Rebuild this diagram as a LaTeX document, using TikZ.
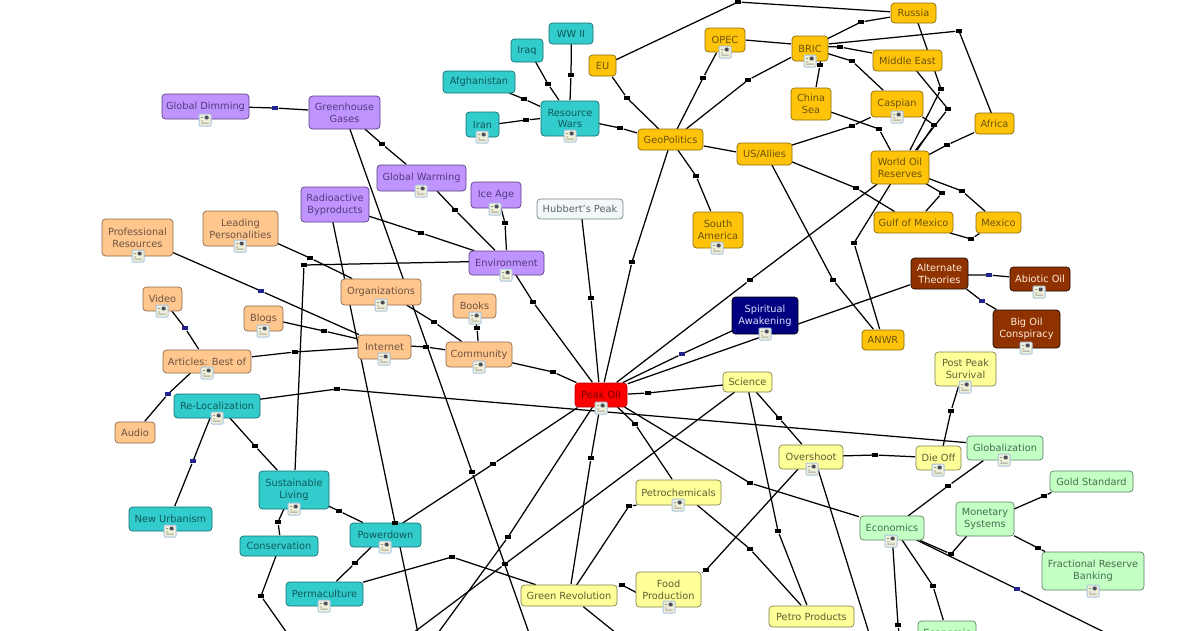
\documentclass[tikz,border=0pt]{standalone}
\usepackage{fontspec}
\setmainfont{DejaVu Sans}
\pgfdeclarelayer{edges}
\pgfsetlayers{edges,main}
\definecolor{cPur}{HTML}{C094FF}\definecolor{tPur}{HTML}{55397F}\definecolor{bPur}{HTML}{5A3C86}
\definecolor{cTeal}{HTML}{33CCCC}\definecolor{tTeal}{HTML}{0F5A5C}\definecolor{bTeal}{HTML}{166E70}
\definecolor{cAmb}{HTML}{FFC40A}\definecolor{tAmb}{HTML}{6A5208}\definecolor{bAmb}{HTML}{8A6A08}
\definecolor{cPea}{HTML}{FFC68E}\definecolor{tPea}{HTML}{6E5440}\definecolor{bPea}{HTML}{8A6A4C}
\definecolor{cYel}{HTML}{FFFF99}\definecolor{tYel}{HTML}{5E5E34}\definecolor{bYel}{HTML}{80804C}
\definecolor{cGrn}{HTML}{C4FFC4}\definecolor{tGrn}{HTML}{466E50}\definecolor{bGrn}{HTML}{5A8264}
\definecolor{cIce}{HTML}{F2F7FA}\definecolor{tIce}{HTML}{5A6468}\definecolor{bIce}{HTML}{7A8488}
\definecolor{cNavy}{HTML}{000080}\definecolor{cBrn}{HTML}{8F3200}
\definecolor{icoB}{HTML}{A8C4E4}\definecolor{icoF}{HTML}{F0EFD8}\definecolor{icoD}{HTML}{4A4F60}
\definecolor{midB}{HTML}{23238C}
\tikzset{
 x=1pt,y=-1pt,
 box/.style={rectangle,rounded corners=3.5pt,align=center,inner sep=0pt,outer sep=0pt,line width=.7pt,
   font=\fontsize{9.8}{11.7}\selectfont},
 nPur/.style={box,fill=cPur,draw=bPur,text=tPur},
 nTeal/.style={box,fill=cTeal,draw=bTeal,text=tTeal},
 nAmb/.style={box,fill=cAmb,draw=bAmb,text=tAmb},
 nPea/.style={box,fill=cPea,draw=bPea,text=tPea},
 nYel/.style={box,fill=cYel,draw=bYel,text=tYel},
 nGrn/.style={box,fill=cGrn,draw=bGrn,text=tGrn},
 nIce/.style={box,fill=cIce,draw=bIce,text=tIce},
 nRed/.style={box,fill=red,draw=red!70!black,text=red!45!black},
 nNavy/.style={box,fill=cNavy,draw=black,text=white!88!blue},
 nBrn/.style={box,fill=cBrn,draw=black!80!cBrn,text=white!85!orange},
 mb/.style={rectangle,fill=black,inner sep=0pt,outer sep=0pt,minimum width=5.5pt,minimum height=4pt},
 mbl/.style={rectangle,fill=midB,inner sep=0pt,outer sep=0pt,minimum width=5.5pt,minimum height=4pt},
 con/.style={draw=black,line width=1.25pt,shorten <=1pt,shorten >=1pt},
 ico/.style={rectangle,rounded corners=1pt,draw=icoB,fill=icoF,line width=1pt,inner sep=0pt,outer sep=0pt,
   minimum size=12pt,path picture={
     \fill[icoD] ([xshift=-.3pt,yshift=.6pt]path picture bounding box.center) rectangle ([xshift=3.6pt,yshift=4.4pt]path picture bounding box.center);
     \fill[gray] ([xshift=-3.8pt,yshift=3pt]path picture bounding box.center) rectangle ([xshift=-2pt,yshift=1.8pt]path picture bounding box.center);
     \fill[gray] ([xshift=-3.8pt,yshift=-.4pt]path picture bounding box.center) rectangle ([xshift=-2pt,yshift=-1.6pt]path picture bounding box.center);
     \fill[gray!70!icoF] ([xshift=-3.8pt,yshift=-2.6pt]path picture bounding box.center) rectangle ([xshift=3.8pt,yshift=-3.6pt]path picture bounding box.center);
   }},
}
\begin{document}
\begin{tikzpicture}
\useasboundingbox (0,0) rectangle (1200,630);
% nodes
\node[nPur,minimum width=87pt,minimum height=25pt] (gd) at (205.5,106.5) {Global Dimming};
\node[nPur,minimum width=71pt,minimum height=33pt] (gh) at (344.5,112.5) {Greenhouse\\Gases};
\node[nPur,minimum width=89pt,minimum height=26pt] (gw) at (421.5,178) {Global Warming};
\node[nPur,minimum width=50pt,minimum height=26pt] (ia) at (496,195) {Ice Age};
\node[nPur,minimum width=68pt,minimum height=35pt] (rad) at (335,204.5) {Radioactive\\Byproducts};
\node[nPur,minimum width=75pt,minimum height=24pt] (env) at (506.5,263) {Environment};
\node[nTeal,minimum width=72pt,minimum height=22pt] (af) at (479,82) {Afghanistan};
\node[nTeal,minimum width=33pt,minimum height=25pt] (ir) at (482.5,124.5) {Iran};
\node[nTeal,minimum width=44pt,minimum height=21pt] (ww) at (571,33.5) {WW II};
\node[nTeal,minimum width=32pt,minimum height=23pt] (iq) at (527,50.5) {Iraq};
\node[nTeal,minimum width=58pt,minimum height=35pt] (rw) at (570,118.5) {Resource\\Wars};
\node[nAmb,minimum width=27pt,minimum height=21pt] (eu) at (602.5,65.5) {EU};
\node[nAmb,minimum width=65pt,minimum height=21pt] (geo) at (670.5,139.5) {GeoPolitics};
\node[nAmb,minimum width=40pt,minimum height=24pt] (opec) at (725,40) {OPEC};
\node[nAmb,minimum width=36pt,minimum height=25pt] (bric) at (810,48.5) {BRIC};
\node[nAmb,minimum width=40pt,minimum height=32pt] (cs) at (811,104) {China\\Sea};
\node[nAmb,minimum width=55pt,minimum height=22pt] (us) at (764.5,154) {US/Allies};
\node[nAmb,minimum width=45pt,minimum height=20pt] (ru) at (913.5,13) {Russia};
\node[nAmb,minimum width=69pt,minimum height=21pt] (me) at (907.5,60.5) {Middle East};
\node[nAmb,minimum width=52pt,minimum height=26pt] (cas) at (897,104) {Caspian};
\node[nAmb,minimum width=39pt,minimum height=21pt] (afr) at (994.5,123.5) {Africa};
\node[nAmb,minimum width=58pt,minimum height=33pt] (wor) at (900,167.5) {World Oil\\Reserves};
\node[nAmb,minimum width=79pt,minimum height=21pt] (gom) at (913.5,222.5) {Gulf of Mexico};
\node[nAmb,minimum width=45pt,minimum height=21pt] (mex) at (998.5,222.5) {Mexico};
\node[nAmb,minimum width=42pt,minimum height=20pt] (anwr) at (883,340) {ANWR};
\node[nAmb,minimum width=50pt,minimum height=36pt] (sa) at (718,230) {South\\America};
\node[nBrn,minimum width=57pt,minimum height=31pt] (alt) at (939.5,273.5) {Alternate\\Theories};
\node[nBrn,minimum width=60pt,minimum height=24pt] (abio) at (1040,279) {Abiotic Oil};
\node[nBrn,minimum width=67pt,minimum height=38pt] (bigo) at (1026.5,329) {Big Oil\\Conspiracy};
\node[nIce,minimum width=86pt,minimum height=20pt] (hub) at (580,209) {Hubbert's Peak};
\node[nNavy,minimum width=66pt,minimum height=37pt] (spi) at (765,315.5) {Spiritual\\Awakening};
\node[nRed,minimum width=52pt,minimum height=24pt] (po) at (601,395) {Peak Oil};
\node[nPea,minimum width=71pt,minimum height=37pt] (prof) at (137.5,237.5) {Professional\\Resources};
\node[nPea,minimum width=75pt,minimum height=35pt] (lead) at (240.5,228.5) {Leading\\Personalities};
\node[nPea,minimum width=80pt,minimum height=26pt] (org) at (381,292) {Organizations};
\node[nPea,minimum width=43pt,minimum height=24pt] (bk) at (474.5,306) {Books};
\node[nPea,minimum width=39pt,minimum height=24pt] (vid) at (162.5,299) {Video};
\node[nPea,minimum width=39pt,minimum height=25pt] (blg) at (263.5,318.5) {Blogs};
\node[nPea,minimum width=53pt,minimum height=24pt] (int) at (384.5,347) {Internet};
\node[nPea,minimum width=66pt,minimum height=25pt] (com) at (479,354.5) {Community};
\node[nPea,minimum width=88pt,minimum height=23pt] (art) at (207,361.5) {Articles: Best of};
\node[nPea,minimum width=40pt,minimum height=21pt] (aud) at (135,432.5) {Audio};
\node[nTeal,minimum width=86pt,minimum height=24pt] (rel) at (217,406) {Re-Localization};
\node[nTeal,minimum width=83pt,minimum height=24pt] (nu) at (170.5,519) {New Urbanism};
\node[nTeal,minimum width=70pt,minimum height=38pt] (sl) at (294,490) {Sustainable\\Living};
\node[nTeal,minimum width=78pt,minimum height=20pt] (cons) at (279,546) {Conservation};
\node[nTeal,minimum width=71pt,minimum height=24pt] (pd) at (385.5,535) {Powerdown};
\node[nTeal,minimum width=77pt,minimum height=24pt] (perm) at (324.5,594) {Permaculture};
\node[nYel,minimum width=49pt,minimum height=20pt] (sci) at (747.5,382) {Science};
\node[nYel,minimum width=61pt,minimum height=34pt] (post) at (965.5,369) {Post Peak\\Survival};
\node[nYel,minimum width=85pt,minimum height=25pt] (pc) at (678.5,492.5) {Petrochemicals};
\node[nYel,minimum width=96pt,minimum height=21pt] (gr) at (569,595.5) {Green Revolution};
\node[nYel,minimum width=65pt,minimum height=35pt] (fp) at (668.5,589.5) {Food\\Production};
\node[nYel,minimum width=85pt,minimum height=21pt] (pp) at (811.5,616.5) {Petro Products};
\node[nYel,minimum width=64pt,minimum height=24pt] (os) at (811,457) {Overshoot};
\node[nYel,minimum width=45pt,minimum height=24pt] (die) at (938.5,458) {Die Off};
\node[nGrn,minimum width=76pt,minimum height=24pt] (glob) at (1005,448) {Globalization};
\node[nGrn,minimum width=83pt,minimum height=21pt] (gold) at (1091.5,481.5) {Gold Standard};
\node[nGrn,minimum width=58pt,minimum height=34pt] (mon) at (985,519) {Monetary\\Systems};
\node[nGrn,minimum width=64pt,minimum height=24pt] (eco) at (892,528) {Economics};
\node[nGrn,minimum width=102pt,minimum height=38pt] (fr) at (1093,571) {Fractional Reserve\\Banking};
\node[nGrn,minimum width=58pt,minimum height=35pt] (ec2) at (947,638.5) {Economic\\ };
% document icons
\node[ico] (k1) at (205,120) {};
\node[ico] (k2) at (421,191) {};
\node[ico] (k3) at (482,137) {};
\node[ico] (k4) at (495,209) {};
\node[ico] (k5) at (570,136) {};
\node[ico] (k6) at (725,52) {};
\node[ico] (k7) at (810,61) {};
\node[ico] (k8) at (897,117) {};
\node[ico] (k9) at (717,248) {};
\node[ico] (k10) at (240,246) {};
\node[ico] (k11) at (138,256) {};
\node[ico] (k12) at (506,275) {};
\node[ico] (k13) at (381,305) {};
\node[ico] (k14) at (475,318) {};
\node[ico] (k15) at (162,311) {};
\node[ico] (k16) at (263,331) {};
\node[ico] (k17) at (384,359) {};
\node[ico] (k18) at (479,367) {};
\node[ico] (k19) at (207,373) {};
\node[ico] (k20) at (217,418) {};
\node[ico] (k21) at (765,334) {};
\node[ico] (k22) at (601,408) {};
\node[ico] (k23) at (1039,292) {};
\node[ico] (k24) at (1026,348) {};
\node[ico] (k25) at (965,387) {};
\node[ico] (k26) at (170,531) {};
\node[ico] (k27) at (294,509) {};
\node[ico] (k28) at (385,547) {};
\node[ico] (k29) at (324,606) {};
\node[ico] (k30) at (678,505) {};
\node[ico] (k31) at (669,607) {};
\node[ico] (k32) at (812,469) {};
\node[ico] (k33) at (938,470) {};
\node[ico] (k34) at (1004,460) {};
\node[ico] (k35) at (891,541) {};
\node[ico] (k36) at (1093,591) {};
% connector midpoints
\node[mbl] (m1) at (275,108) {};
\node[mb] (m2) at (382,144) {};
\node[mb] (m3) at (472,472) {};
\node[mb] (m3b) at (395,523) {};
\node[mb] (m4) at (455,210) {};
\node[mb] (m5) at (505,223) {};
\node[mb] (m6) at (421,233) {};
\node[mb] (m7) at (533,302) {};
\node[mb] (m8) at (304,265) {};
\node[mb] (m9) at (310,258) {};
\node[mb] (m10) at (434,322) {};
\node[mb] (m11) at (477,328) {};
\node[mb] (m12) at (553,372) {};
\node[mb] (m13) at (426,347) {};
\node[mb] (m14) at (295,352) {};
\node[mb] (m15) at (324,331) {};
\node[mbl] (m16) at (261,291) {};
\node[mbl] (m17) at (185,328) {};
\node[mbl] (m18) at (168,394) {};
\node[mb] (m19) at (337,389) {};
\node[mb] (m20) at (255,446) {};
\node[mbl] (m21) at (193,461) {};
\node[mb] (m22) at (278,522) {};
\node[mb] (m23) at (339,511) {};
\node[mb] (m24) at (355,563) {};
\node[mb] (m25) at (261,596) {};
\node[mb] (m26) at (493,464) {};
\node[mb] (m27) at (452,557) {};
\node[mb] (m28) at (505,564) {};
\node[mb] (m29) at (508,537) {};
\node[mb] (m30) at (591,458) {};
\node[mb] (m31) at (635,424) {};
\node[mb] (m32) at (750,483) {};
\node[mb] (m33) at (648,393) {};
\node[mb] (m34) at (591,298) {};
\node[mb] (m35) at (632,262) {};
\node[mb] (m36) at (750,280) {};
\node[mbl] (m37) at (682,354) {};
\node[mbl] (m39) at (989,275) {};
\node[mbl] (m40) at (982,301) {};
\node[mb] (m41) at (971,239) {};
\node[mb] (m42) at (854,243) {};
\node[mb] (m43) at (833,280) {};
\node[mb] (m44) at (942,193) {};
\node[mb] (m45) at (962,191) {};
\node[mb] (m46) at (856,188) {};
\node[mb] (m47) at (947,145) {};
\node[mb] (m48) at (959,31) {};
\node[mb] (m49) at (861,22) {};
\node[mb] (m50) at (840,47) {};
\node[mb] (m51) at (852,61) {};
\node[mb] (m52) at (820,65) {};
\node[mb] (m53) at (879,129) {};
\node[mb] (m55) at (703,78) {};
\node[mb] (m56) at (748,80) {};
\node[mb] (m57) at (627,98) {};
\node[mb] (m58) at (738,2) {};
\node[mb] (m59) at (620,128) {};
\node[mb] (m60) at (571,75) {};
\node[mb] (m61) at (548,84) {};
\node[mb] (m62) at (524,99) {};
\node[mb] (m63) at (526,120) {};
\node[mb] (m65) at (852,126) {};
\node[mb] (m66) at (696,176) {};
\node[mb] (m67) at (941,89) {};
\node[mb] (m68) at (948,109) {};
\node[mb] (m69) at (934,125) {};
\node[mb] (m70) at (779,418) {};
\node[mb] (m71) at (778,531) {};
\node[mb] (m72) at (750,549) {};
\node[mb] (m73) at (706,570) {};
\node[mb] (m74) at (622,585) {};
\node[mb] (m75) at (629,506) {};
\node[mb] (m78) at (875,455) {};
\node[mb] (m79) at (951,411) {};
\node[mb] (m80) at (948,486) {};
\node[mb] (m81) at (951,554) {};
\node[mbl] (m82) at (1017,589) {};
\node[mb] (m83) at (1044,496) {};
\node[mb] (m84) at (1038,548) {};
\node[mb] (m85) at (933,586) {};
\node[mb] (m86) at (898,625) {};
% free ends below the picture's lower edge
\coordinate (f3) at (529,633);
\coordinate (f3b) at (418,633);
\coordinate (f25) at (287,633);
\coordinate (f28) at (413,633);
\coordinate (f29) at (438,633);
\coordinate (f76) at (616,633);
\coordinate (f77) at (869,633);
\coordinate (f82) at (1106,633);
\coordinate (f86) at (899,633);
\begin{pgfonlayer}{edges}
\draw[con] (gd.-1) -- (m1) -- (gh.176);
\draw[con] (gh.-72) -- (m3) -- (f3);
\draw[con] (gh.-39) -- (m2) -- (gw.138);
\draw[con] (rad.-97) -- (m3b) -- (f3b);
\draw[con] (gw.-40) -- (m4) -- (env.132);
\draw[con] (ia.-69) -- (m5) -- (env.90);
\draw[con] (rad.-19) -- (m6) -- (env.159);
\draw[con] (env.-52) -- (m7) -- (po.124);
\draw[con] (env.178) -- (m8) -- (sl.87);
\draw[con] (lead.-22) -- (m9) -- (org.155);
\draw[con] (org.-27) -- (m10) -- (com.143);
\draw[con] (bk.-88) -- (m11) -- (com.94);
\draw[con] (com.-14) -- (m12) -- (po.153);
\draw[con] (int.2) -- (m13) -- (com.172);
\draw[con] (int.182) -- (m14) -- (art.6);
\draw[con] (blg.-10) -- (m15) -- (int.163);
\draw[con] (prof.-23) -- (m16) -- (int.154);
\draw[con] (vid.-52) -- (m17) -- (art.124);
\draw[con] (art.-145) -- (m18) -- (aud.49);
\draw[con] (rel.9) -- (m19) -- (glob.172);
\draw[con] (rel.-43) -- (m20) -- (sl.130);
\draw[con] (rel.-120) -- (m21) -- (nu.72);
\draw[con] (sl.-118) -- (m22) -- (cons.85);
\draw[con] (sl.-25) -- (m23) -- (pd.151);
\draw[con] (pd.-140) -- (m24) -- (perm.47);
\draw[con] (cons.-107) -- (m25) -- (f25);
\draw[con] (pd.35) -- (m26) -- (po.-152);
\draw[con] (perm.17) -- (m27) -- (gr.162);
\draw[con] (sci.-142) -- (m28) -- (f28);
\draw[con] (po.-125) -- (m29) -- (f29);
\draw[con] (po.-95) -- (m30) -- (gr.80);
\draw[con] (po.-36) -- (m31) -- (pc.115);
\draw[con] (po.-27) -- (m32) -- (eco.161);
\draw[con] (sci.187) -- (m33) -- (po.2);
\draw[con] (hub.-79) -- (m34) -- (po.100);
\draw[con] (geo.-103) -- (m35) -- (po.76);
\draw[con] (wor.-144) -- (m36) -- (po.39);
\draw[con] (spi.-155) -- (m37) -- (po.30);
\draw[con] (alt.-159) -- (po.23);
\draw[con] (alt.-3) -- (m39) -- (abio.176);
\draw[con] (alt.-30) -- (m40) -- (bigo.147);
\draw[con] (gom.-16) -- (m41) -- (mex.-150);
\draw[con] (wor.-120) -- (m42) -- (anwr.107);
\draw[con] (us.-56) -- (m43) -- (anwr.132);
\draw[con] (wor.-32) -- (m44) -- (gom.42);
\draw[con] (wor.-21) -- (m45) -- (mex.140);
\draw[con] (us.-16) -- (m46) -- (gom.150);
\draw[con] (wor.24) -- (m47) -- (afr.-156);
\draw[con] (afr.107) -- (m48) -- (bric.14);
\draw[con] (bric.29) -- (m49) -- (ru.190);
\draw[con] (bric.6) -- (m50) -- (me.168);
\draw[con] (bric.-16) -- (m51) -- (cas.135);
\draw[con] (bric.-50) -- (m52) -- (cs.73);
\draw[con] (cs.-22) -- (m53) -- (wor.119);
\draw[con] (opec.0) -- (bric.166);
\draw[con] (geo.58) -- (m55) -- (opec.-124);
\draw[con] (geo.34) -- (m56) -- (bric.-155);
\draw[con] (geo.138) -- (m57) -- (eu.-49);
\draw[con] (eu.23) -- (m58) -- (ru.177);
\draw[con] (rw.-10) -- (m59) -- (geo.169);
\draw[con] (ww.-88) -- (m60) -- (rw.90);
\draw[con] (iq.-53) -- (m61) -- (rw.121);
\draw[con] (af.-20) -- (m62) -- (rw.158);
\draw[con] (ir.3) -- (m63) -- (rw.180);
\draw[con] (geo.-11) -- (us.176);
\draw[con] (us.18) -- (m65) -- (cas.-153);
\draw[con] (geo.-55) -- (m66) -- (sa.111);
\draw[con] (ru.-66) -- (m67) -- (wor.60);
\draw[con] (me.-49) -- (m68) -- (wor.48);
\draw[con] (cas.-27) -- (m69) -- (wor.45);
\draw[con] (sci.-49) -- (m70) -- (os.125);
\draw[con] (sci.-83) -- (m71) -- (pp.112);
\draw[con] (pc.-34) -- (m72) -- (pp.133);
\draw[con] (os.-137) -- (m73) -- (fp.27);
\draw[con] (fp.185) -- (m74) -- (gr.11);
\draw[con] (gr.54) -- (m75) -- (pc.-163);
\draw[con] (gr.-38) -- (f76);
\draw[con] (os.-60) -- (f77);
\draw[con] (os.2) -- (m78) -- (die.177);
\draw[con] (die.69) -- (m79) -- (post.-112);
\draw[con] (eco.37) -- (m80) -- (glob.-150);
\draw[con] (mon.-137) -- (m81) -- (eco.-24);
\draw[con] (eco.-26) -- (m82) -- (f82);
\draw[con] (mon.19) -- (m83) -- (gold.-165);
\draw[con] (mon.-30) -- (m84) -- (fr.158);
\draw[con] (eco.-50) -- (m85) -- (ec2.101);
\draw[con] (eco.-88) -- (m86) -- (f86);
\end{pgfonlayer}
\end{tikzpicture}
\end{document}
